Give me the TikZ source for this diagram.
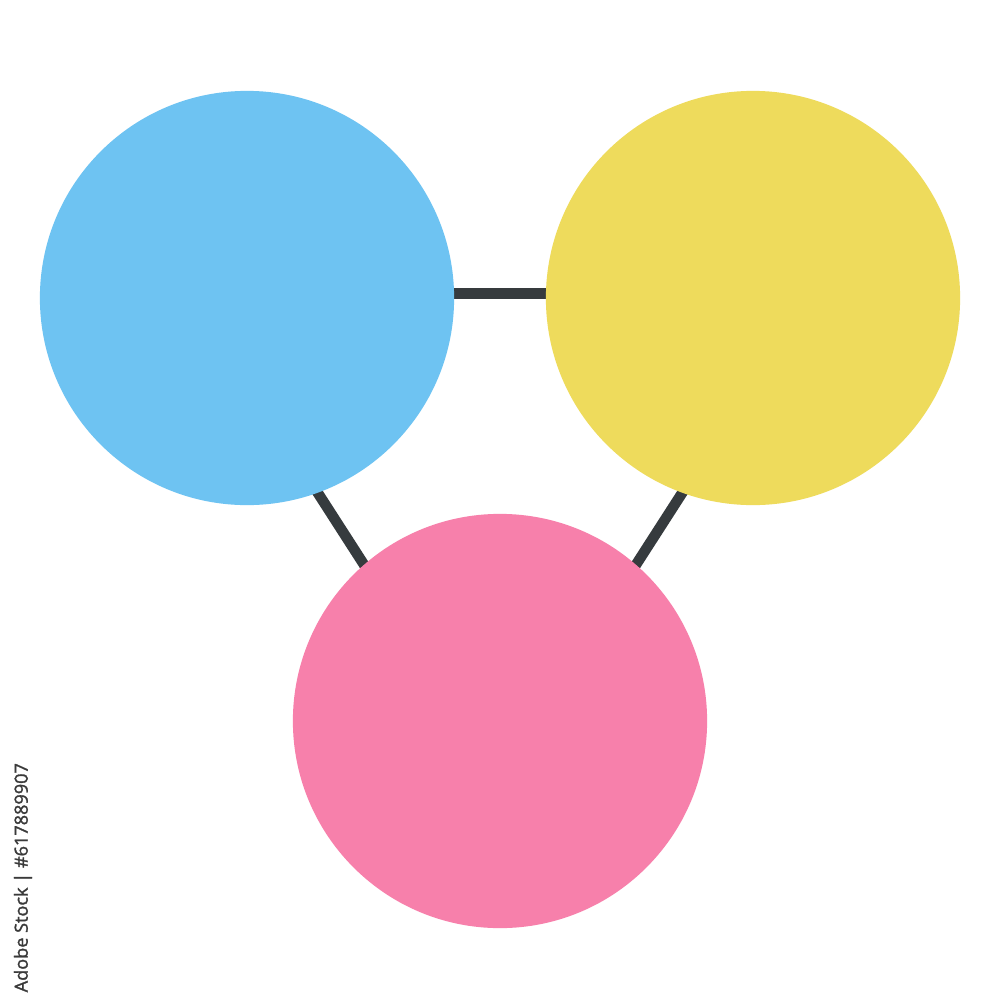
\documentclass[tikz,border=0pt]{standalone}
\usepackage{fontspec}
\newfontfamily\wmfont[FakeBold=1.5]{Open Sans}
\usetikzlibrary{backgrounds}
\definecolor{cblue}{HTML}{6EC3F2}
\definecolor{cyellow}{HTML}{EEDB5C}
\definecolor{cpink}{HTML}{F780AB}
\definecolor{cline}{HTML}{363B3E}
\definecolor{ctext}{HTML}{3A3A3A}
\tikzset{
  blob/.style={circle, inner sep=0pt, minimum size=4.14cm, draw=none},
  link/.style={draw=cline, line width=0.105cm, shorten <=-0.06cm, shorten >=-0.06cm}
}
\begin{document}
\begin{tikzpicture}[x=0.01cm,y=-0.01cm]
\useasboundingbox (0,0) rectangle (1000,1000);
\node[blob, fill=cblue] (blue) at (247,298) {};
\node[blob, fill=cyellow] (yellow) at (753,298) {};
\node[blob, fill=cpink] (pink) at (500,721) {};
\begin{scope}[on background layer]
\fill[white] (0,0) rectangle (1000,1000);
\draw[link] ([yshift=0.045cm]blue.east) -- ([yshift=0.045cm]yellow.west);
\draw[link] (blue.-70) -- (pink.131);
\draw[link] (yellow.250) -- (pink.49);
\end{scope}
\node[rotate=90, anchor=west, inner sep=0pt, text=ctext, font=\wmfont\fontsize{5.15pt}{6pt}\selectfont] (wm) at (23,993) {Adobe Stock | \#617889907};
\end{tikzpicture}
\end{document}
